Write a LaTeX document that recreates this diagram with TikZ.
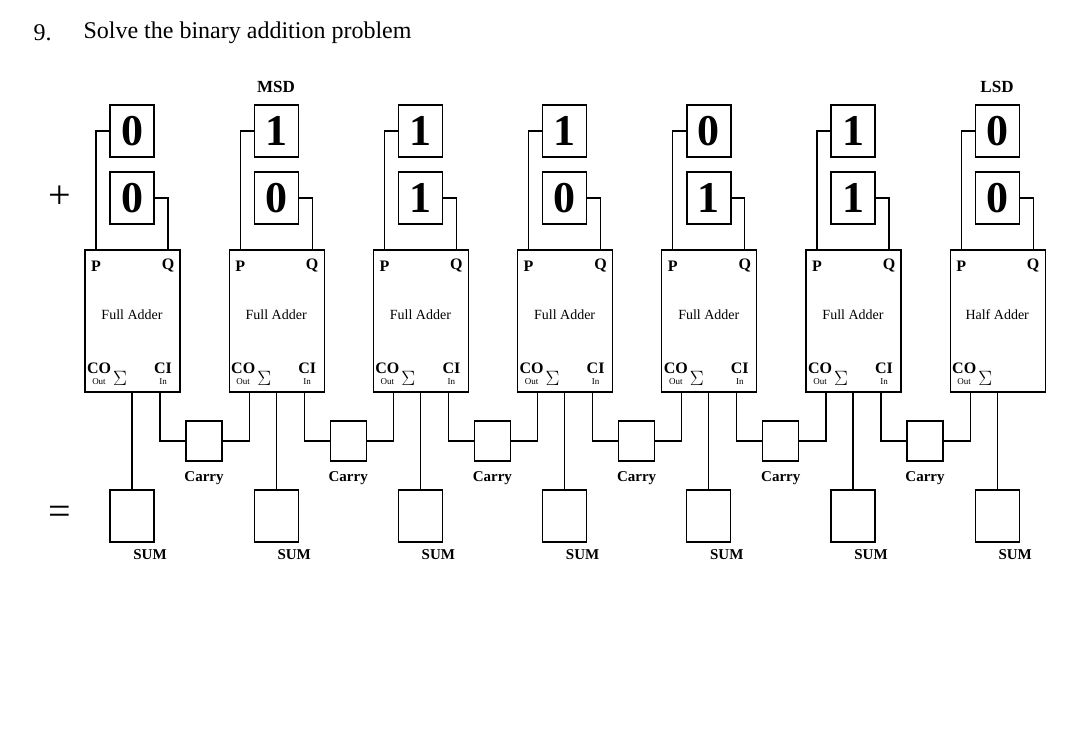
\documentclass[tikz,border=0pt]{standalone}
\usepackage{fontspec}
\setmainfont{Liberation Serif}
\usetikzlibrary{positioning}
\tikzset{
  digit/.style={draw, line width=1.4pt, minimum width=44pt, minimum height=52pt, inner sep=0pt, font=\fontsize{44}{44}\selectfont\bfseries},
  adder/.style={draw, line width=1.2pt, minimum width=95pt, minimum height=142pt, inner sep=0pt},
  result/.style={draw, line width=1.1pt, minimum width=44pt, minimum height=52pt, inner sep=0pt},
  carrybox/.style={draw, line width=1.1pt, minimum width=36pt, minimum height=40pt, inner sep=0pt},
  wire/.style={line width=1.2pt},
  pin/.style={font=\fontsize{16}{16}\selectfont\bfseries, inner sep=0pt},
  tiny/.style={font=\fontsize{9}{9}\selectfont, inner sep=0pt},
  tag/.style={font=\fontsize{15}{15}\selectfont\bfseries, inner sep=0pt}
}
\begin{document}
\begin{tikzpicture}[x=1pt,y=-1pt]
  \useasboundingbox (0,0) rectangle (1077,730);
  %% heading
  \node[anchor=west, font=\fontsize{24}{24}\selectfont] (num) at (30,33) {9.};
  \node[anchor=west, font=\fontsize{24}{24}\selectfont] (title) at (80,33) {Solve the binary addition problem};
  \node[font=\fontsize{40}{40}\selectfont] (plus) at (60,197) {+};
  \node[font=\fontsize{40}{40}\selectfont] (equal) at (60,515) {=};
  %% one column per bit
  \foreach \i/\a/\b/\t in {0/0/0/Full Adder,1/1/0/Full Adder,2/1/1/Full Adder,3/1/0/Full Adder,4/0/1/Full Adder,5/1/1/Full Adder,6/0/0/Half Adder}{
    \pgfmathsetmacro{\L}{85+144.2*\i}
    \node[digit] (top\i) at (\L+47,131) {\a};
    \node[digit] (bot\i) at (\L+47,198) {\b};
    \node[adder] (add\i) at (\L+47.5,321) {};
    \node[font=\fontsize{14}{14}\selectfont] (name\i) at (\L+47,315) {\t};
    \node[pin] (p\i) at (\L+11,266) {P};
    \node[pin] (q\i) at (\L+83,266) {Q};
    \node[pin] (co\i) at (\L+14,368) {CO};
    \node[tiny] (out\i) at (\L+14,382) {Out};
    \node[font=\fontsize{20}{20}\selectfont, inner sep=0pt] (sig\i) at (\L+35,378) {$\Sigma$};
    \coordinate (pin\i) at (\L+11,250);
    \coordinate (qin\i) at (\L+83,250);
    \coordinate (sout\i) at (\L+47,392);
    \coordinate (coout\i) at (\L+20,392);
    \node[result] (sum\i) at (\L+47,516) {};
    \node[tag] (sumlab\i) at (\L+65,555) {SUM};
    \draw[wire] (top\i.west) -| (pin\i);
    \draw[wire] (bot\i.east) -| (qin\i);
    \draw[wire] (sout\i) -- (sum\i.north);
  }
  %% carries between columns
  \foreach \i [evaluate=\i as \j using int(\i+1)] in {0,...,5}{
    \pgfmathsetmacro{\L}{85+144.2*\i}
    \node[pin] (ci\i) at (\L+78,368) {CI};
    \node[tiny] (in\i) at (\L+78,382) {In};
    \coordinate (ciout\i) at (\L+75,392);
    \node[carrybox] (carry\i) at (\L+119,441) {};
    \node[tag] (carrylab\i) at (\L+119,478) {Carry};
    \draw[wire] (ciout\i) |- (carry\i.west);
    \draw[wire] (carry\i.east) -| (coout\j);
  }
  \node[tag, font=\fontsize{17}{17}\selectfont\bfseries] (msd) at (276,87) {MSD};
  \node[tag, font=\fontsize{17}{17}\selectfont\bfseries] (lsd) at (997,87) {LSD};
\end{tikzpicture}
\end{document}
